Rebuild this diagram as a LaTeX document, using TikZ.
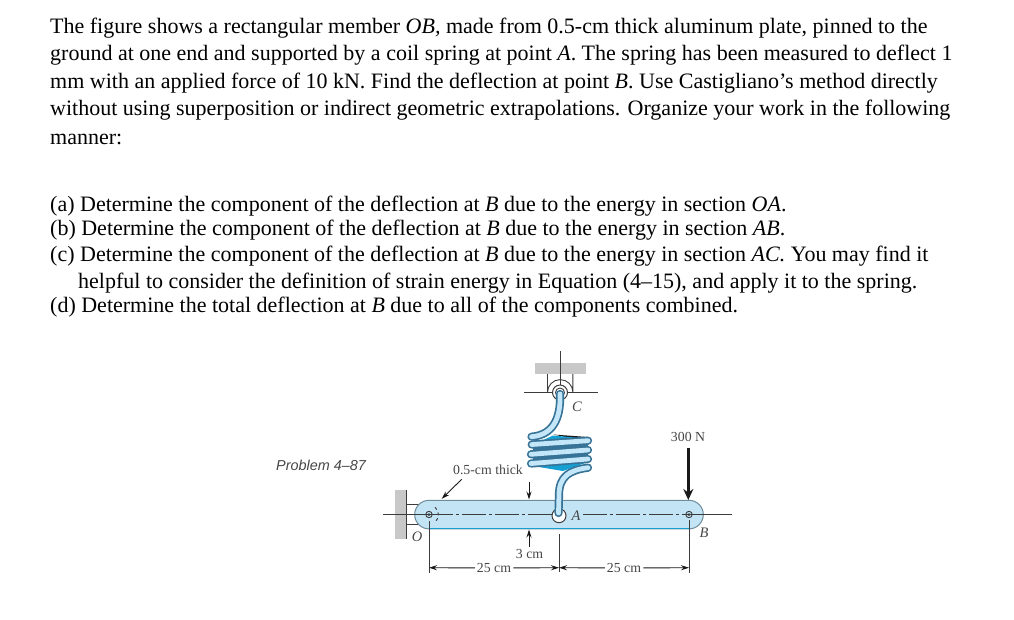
\documentclass[tikz,border=0pt]{standalone}
\usepackage{amsmath}
\usepackage{fontspec}
\usepackage{xcolor}
\setmainfont{Liberation Serif}
\setsansfont{Liberation Sans}
\usetikzlibrary{arrows.meta}
\tikzset{
	textline/.style={anchor=base west, inner sep=0pt, font=\fontsize{22}{24}\selectfont},
	figlabel/.style={inner sep=0pt, text=LABEL_GRAY, font=\fontsize{13.8}{15}\selectfont},
	figletter/.style={inner sep=0pt, text=LABEL_GRAY, font=\fontsize{14.5}{16}\selectfont\itshape},
	thinline/.style={line width={0.9pt}, color={LINE_GRAY}},
	dimarrow/.style={line width={0.9pt}, color={ALMOST_BLACK}, -{Stealth[length=8pt,width=5pt]}},
	wireout/.style={line width={8.2pt}, color={WIRE_DARK}, line cap=round},
	wirein/.style={line width={4.8pt}, color={WIRE_BLUE}, line cap=round}
}
\begin{document}
\begin{tikzpicture}[x=1pt, y=-1pt]
	\definecolor{ALMOST_BLACK}{RGB}{25, 25, 25}
	\definecolor{LABEL_GRAY}{RGB}{70, 70, 70}
	\definecolor{LINE_GRAY}{RGB}{60, 60, 60}
	\definecolor{WALL_GRAY}{RGB}{200, 200, 200}
	\definecolor{BAR_BLUE}{RGB}{195, 228, 245}
	\definecolor{BAR_EDGE}{RGB}{110, 140, 155}
	\definecolor{WIRE_BLUE}{RGB}{195, 230, 248}
	\definecolor{WIRE_DARK}{RGB}{55, 115, 150}
	\definecolor{COIL_CYAN}{RGB}{20, 160, 210}
	\useasboundingbox (0,0) rectangle (1014,619);

	\node[textline] (line1) at (50,33.5) {The figure shows a rectangular member \textit{OB,} made from 0.5-cm thick aluminum plate, pinned to the};
	\node[textline] (line2) at (50,60.5) {ground at one end and supported by a coil spring at point \textit{A}. The spring has been measured to deflect 1};
	\node[textline] (line3) at (50,88) {mm with an applied force of 10 kN. Find the deflection at point \textit{B}. Use Castigliano’s method directly};
	\node[textline] (line4) at (50,115) {without using superposition or indirect geometric extrapolations. Organize your work in the following};
	\node[textline] (line5) at (50,144) {manner:};
	\node[textline] (parta) at (50,211) {(a) Determine the component of the deflection at \textit{B} due to the energy in section \textit{OA}.};
	\node[textline] (partb) at (50,235) {(b) Determine the component of the deflection at \textit{B} due to the energy in section \textit{AB}.};
	\node[textline] (partc) at (50,261) {(c) Determine the component of the deflection at \textit{B} due to the energy in section \textit{AC.} You may find it};
	\node[textline] (partc2) at (78,288) {helpful to consider the definition of strain energy in Equation (4–15), and apply it to the spring.};
	\node[textline] (partd) at (50,312) {(d) Determine the total deflection at \textit{B} due to all of the components combined.};

	\coordinate (O) at (429,514.5);
	\coordinate (A) at (559,515.7);
	\coordinate (B) at (689,514.5);
	\coordinate (C) at (560,392.5);
	\coordinate (Amid) at (583,514.5);

	\fill[fill={WALL_GRAY}] (395,490) rectangle (406.5,539);
	\fill[fill={WALL_GRAY}] (535,362.7) rectangle (586,374);
	\draw[thinline] (406.5,490) -- (406.5,539);
	\draw[thinline] (406.5,504) -- (429,504);
	\draw[thinline] (406.5,524.5) -- (429,524.5);
	\draw[thinline] (547.5,374) -- (547.5,392.3) arc (180:360:12.7) -- (572.9,374);

	\draw[line width={1pt}, color={BAR_EDGE}, fill={BAR_BLUE}] (429,500.3) -- (689,500.3) arc (-90:90:14.3) -- (429,528.9) arc (90:270:14.3) -- cycle;
	\draw[line width={1.4pt}, color={COIL_CYAN}] (429,528.6) -- (689,528.6);

	\draw[thinline] (383,514.5) -- (O);
	\draw[thinline, dash pattern=on 24pt off 3pt on 3pt off 3pt] (O) -- (559,514.5);
	\draw[thinline, dash pattern=on 24pt off 3pt on 3pt off 3pt] (Amid) -- (B);
	\draw[thinline] (B) -- (732,514.5);
	\draw[thinline] (524,392.5) -- (598,392.5);
	\draw[thinline] (560,351) -- (560,386);

	\draw[thinline] (O) circle (3.2);
	\fill[fill={LINE_GRAY}] (O) circle (1.5);
	\draw[thinline, dashed] (O) ++(-50:9.5) arc (-50:50:9.5);
	\draw[thinline] (B) circle (3.2);
	\fill[fill={LINE_GRAY}] (B) circle (1.5);

	\draw[line width={1pt}, color={LINE_GRAY}, fill=white] (A) circle (7);
	\draw[line width={1pt}, color={LINE_GRAY}, fill=white] (C) circle (7.5);
	\draw[thinline] (C) circle (4.5);

	\fill[fill={ALMOST_BLACK}] (553,434.5) -- (588,437) -- (580,440) -- cycle;
	\fill[fill={COIL_CYAN}] (553,435.5) -- (585,438.5) -- (537,443) -- cycle;
	\fill[fill={COIL_CYAN}] (533,466) -- (588,462) -- (563,471) -- cycle;
	\fill[fill={WIRE_DARK}] (533,444) -- (588,440) -- (588,459) -- (533,463) -- cycle;

	\draw[wireout] (560,394) .. controls (561,420) and (552,435) .. (531.5,436.7);
	\draw[wireout] (531.7,444.5) -- (588,440.7);
	\draw[wireout] (531,454.3) -- (588,450);
	\draw[wireout] (531,463.5) -- (588,459);
	\draw[wireout] (588,467.7) .. controls (570,470) and (559,476) .. (559,495) -- (558.5,513);
	\draw[wirein] (560,394) .. controls (561,420) and (552,435) .. (531.5,436.7);
	\draw[wirein] (531.7,444.5) -- (588,440.7);
	\draw[wirein] (531,454.3) -- (588,450);
	\draw[wirein] (531,463.5) -- (588,459);
	\draw[wirein] (588,467.7) .. controls (570,470) and (559,476) .. (559,495) -- (558.5,513);

	\draw[thinline] (429,521) -- (429,573);
	\draw[thinline] (559,534) -- (559,572);
	\draw[thinline] (689,520) -- (689,573);

	\node[figlabel] (thicklabel) at (488,470) {0.5-cm thick};
	\node[figlabel] (loadlabel) at (688,437) {300 N};
	\node[figlabel] (heightlabel) at (529.5,554) {3 cm};
	\node[figlabel, fill=white, inner xsep=2pt] (leftdim) at (494,568) {25 cm};
	\node[figlabel, fill=white, inner xsep=2pt] (rightdim) at (624,568) {25 cm};
	\node[figletter] (labelC) at (577,407) {C};
	\node[figletter] (labelO) at (417,537) {O};
	\node[figletter] (labelB) at (704,533) {B};
	\node[figletter] (labelA) at (576,515.7) {A};
	\node[figlabel, font=\sffamily\itshape\fontsize{14.4}{16}\selectfont, text={LABEL_GRAY}] (problem) at (321,465) {Problem 4–87};

	\coordinate (thicktail) at (461.7,479.3);
	\coordinate (thicktip) at (441.7,498.8);
	\coordinate (toptail) at (529,481.7);
	\coordinate (toptip) at (529,499.5);
	\coordinate (lowtail) at (529,546.5);
	\coordinate (lowtip) at (529,529.5);
	\coordinate (loadtail) at (688.3,447.7);
	\coordinate (loadtip) at (688.3,500);
	\coordinate (dimO) at (429,567.7);
	\coordinate (dimA) at (559,567.7);
	\coordinate (dimB) at (689,567.7);

	\draw[dimarrow] (thicktail) -- (thicktip);
	\draw[dimarrow] (toptail) -- (toptip);
	\draw[dimarrow] (lowtail) -- (lowtip);
	\draw[line width={3.2pt}, color={ALMOST_BLACK}, -{Stealth[length=11pt,width=10pt]}] (loadtail) -- (loadtip);
	\draw[dimarrow] (leftdim) -- (dimO);
	\draw[dimarrow] (leftdim) -- (dimA);
	\draw[dimarrow] (rightdim) -- (dimA);
	\draw[dimarrow] (rightdim) -- (dimB);
\end{tikzpicture}
\end{document}
